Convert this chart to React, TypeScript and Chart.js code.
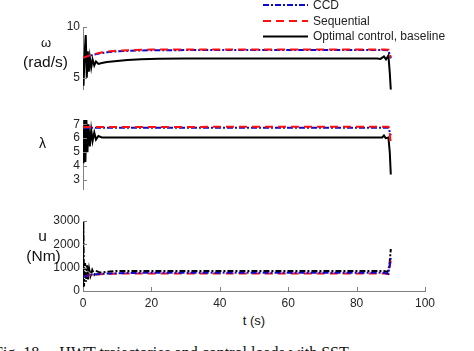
import React, { useEffect, useRef } from "react";
import { Chart, registerables } from "chart.js";

Chart.register(...registerables);

// ---------- data ----------
const LEGEND_LABELS = ["CCD", "Sequential", "Optimal control, baseline"];

const X_TICKS = [0, 20, 40, 60, 80, 100];
const OMEGA_TICKS = [5, 10];
const LAMBDA_TICKS = [3, 4, 5, 6, 7];
const U_TICKS = [0, 1000, 2000, 3000];

// omega (rad/s)
const T_OMEGA_CCD = [0, 1, 2, 3, 5, 7, 10, 14, 20, 30, 50, 70, 88, 89.3, 90];
const OMEGA_CCD = [6.95, 7.05, 7.15, 7.25, 7.4, 7.5, 7.6, 7.66, 7.7, 7.72, 7.72, 7.72, 7.72, 7.7, 6.9];
const T_OMEGA_SEQ = [0, 1, 2, 3, 5, 7, 10, 14, 20, 30, 50, 70, 88, 89.3, 90];
const OMEGA_SEQ = [6.95, 7.08, 7.2, 7.3, 7.45, 7.56, 7.66, 7.72, 7.77, 7.78, 7.78, 7.78, 7.78, 7.76, 7.0];
const T_OMEGA_OPT = [0, 0.15, 0.5, 0.8, 1.1, 1.4, 1.7, 2.0, 2.4, 2.8, 3.3, 3.8, 4.5, 5.5, 7, 10, 13, 17, 22, 30, 50, 70, 86, 87, 88, 88.6, 89.3, 89.7, 90];
const OMEGA_OPT = [6.9, 4.2, 7.5, 9.2, 5.0, 7.6, 5.6, 7.0, 6.0, 6.8, 6.2, 6.6, 6.35, 6.45, 6.55, 6.65, 6.75, 6.82, 6.87, 6.9, 6.9, 6.9, 6.9, 6.85, 7.1, 6.8, 7.2, 5.5, 3.8];

// lambda
const T_LAMBDA_CCD = [0, 1, 2, 4, 88, 89.3, 90];
const LAMBDA_CCD = [6.7, 6.72, 6.74, 6.75, 6.75, 6.75, 6.2];
const T_LAMBDA_SEQ = [0, 2, 88, 89.3, 89.6, 90];
const LAMBDA_SEQ = [6.78, 6.8, 6.82, 6.82, 6.6, 5.6];
const T_LAMBDA_OPT = [0, 0.15, 0.4, 0.7, 1.0, 1.3, 1.6, 2.0, 2.4, 2.8, 3.3, 3.8, 4.5, 5.5, 86, 87.5, 88, 88.5, 89.3, 89.7, 90];
const LAMBDA_OPT = [6.8, 4.2, 7.3, 4.3, 7.3, 5.0, 7.0, 5.4, 6.6, 5.8, 6.4, 5.9, 6.15, 6.05, 6.05, 6.05, 6.2, 6.0, 6.05, 5.0, 3.4];

// u (Nm)
const T_U_CCD = [0, 1, 2, 4, 6, 8, 10, 15, 20, 40, 60, 80, 88, 89.3, 90];
const U_CCD = [600, 650, 690, 720, 740, 755, 765, 775, 780, 780, 780, 780, 780, 740, 1450];
const T_U_SEQ = [0, 1, 2, 4, 6, 8, 10, 15, 20, 40, 60, 80, 88, 89.3, 90];
const U_SEQ = [600, 640, 680, 710, 725, 735, 745, 750, 752, 752, 752, 752, 752, 720, 1300];
const T_U_OPT = [0, 0.1, 0.3, 0.6, 0.9, 1.2, 1.5, 1.8, 2.2, 2.7, 3.3, 4, 5, 7, 10, 20, 40, 60, 80, 88, 89, 89.6, 90];
const U_OPT = [0, 3000, 200, 1200, 400, 1100, 500, 950, 650, 900, 700, 850, 790, 820, 860, 860, 860, 860, 860, 860, 820, 1100, 1800];

// ---------- styles ----------
const BLUE = "#0a0acc";
const RED = "#ff1010";
const BLACK = "#000000";
const AXIS_GRAY = "#808080";
const TICK_TEXT = "#262626";
const FONT_FAMILY = "'Liberation Sans', Arial, sans-serif";
const DASH_DOT = [6, 2, 2, 2];
const DASHED = [8, 5];

const pts = (t: number[], v: number[]) => t.map((x, i) => ({ x, y: v[i] }));

const insideTicks = {
  id: "insideTicks",
  afterDraw(chart: any) {
    const { ctx, chartArea, scales } = chart;
    ctx.save();
    ctx.strokeStyle = AXIS_GRAY;
    ctx.lineWidth = 1;
    ctx.beginPath();
    scales.y.ticks.forEach((t: any) => {
      const py = Math.round(scales.y.getPixelForValue(t.value)) + 0.5;
      ctx.moveTo(chartArea.left, py);
      ctx.lineTo(chartArea.left + 4, py);
    });
    if (scales.x.options.display) {
      scales.x.ticks.forEach((t: any) => {
        const px = Math.round(scales.x.getPixelForValue(t.value)) + 0.5;
        ctx.moveTo(px, chartArea.bottom);
        ctx.lineTo(px, chartArea.bottom - 4);
      });
    }
    ctx.stroke();
    ctx.restore();
  },
};

const legendPlugin = {
  id: "customLegend",
  afterDraw(chart: any) {
    const { ctx } = chart;
    const styles = [
      { color: BLUE, dash: DASH_DOT },
      { color: RED, dash: DASHED },
      { color: BLACK, dash: [] as number[] },
    ];
    const ys = [5, 21, 36.5];
    ctx.save();
    LEGEND_LABELS.forEach((label, i) => {
      ctx.beginPath();
      ctx.setLineDash(styles[i].dash);
      ctx.strokeStyle = styles[i].color;
      ctx.lineWidth = 2;
      ctx.moveTo(263, ys[i]);
      ctx.lineTo(308, ys[i]);
      ctx.stroke();
      ctx.setLineDash([]);
      ctx.fillStyle = "#222";
      ctx.font = `12px ${FONT_FAMILY}`;
      ctx.textBaseline = "middle";
      ctx.textAlign = "left";
      ctx.fillText(label, 313, ys[i] + 0.5);
    });
    ctx.restore();
  },
};

const tickFmt = (v: any) => String(v);

function makeConfig(
  datasets: any[],
  yMin: number,
  yMax: number,
  yTicks: number[],
  showX: boolean,
  padding: any,
  extraPlugins: any[]
) {
  return {
    type: "line",
    data: { datasets },
    options: {
      animation: false,
      responsive: false,
      layout: { padding },
      elements: { point: { radius: 0 }, line: { tension: 0 } },
      plugins: { legend: { display: false }, tooltip: { enabled: false } },
      scales: {
        x: {
          type: "linear",
          min: 0,
          max: 100,
          display: showX,
          afterBuildTicks: (s: any) => {
            s.ticks = X_TICKS.map((v) => ({ value: v }));
          },
          afterFit: (s: any) => {
            s.height = showX ? 19 : 0;
          },
          grid: { display: true, drawOnChartArea: false, drawTicks: false },
          border: { display: true, color: AXIS_GRAY, width: 1 },
          ticks: {
            padding: 5,
            autoSkip: false,
            maxRotation: 0,
            callback: tickFmt,
            color: TICK_TEXT,
            font: { family: FONT_FAMILY, size: 12 },
          },
        },
        y: {
          type: "linear",
          min: yMin,
          max: yMax,
          afterBuildTicks: (s: any) => {
            s.ticks = yTicks.map((v) => ({ value: v }));
          },
          afterFit: (s: any) => {
            s.width = 83;
          },
          grid: { display: true, drawOnChartArea: false, drawTicks: false },
          border: { display: true, color: AXIS_GRAY, width: 1 },
          ticks: {
            padding: 3,
            autoSkip: false,
            callback: tickFmt,
            color: TICK_TEXT,
            font: { family: FONT_FAMILY, size: 12 },
          },
        },
      },
    },
    plugins: [insideTicks, ...extraPlugins],
  };
}

function ds(data: any[], color: string, dash: number[], order: number) {
  return { data, borderColor: color, borderDash: dash, borderWidth: 2, fill: false, order, pointRadius: 0 };
}

export default function App() {
  const r1 = useRef<HTMLCanvasElement>(null);
  const r2 = useRef<HTMLCanvasElement>(null);
  const r3 = useRef<HTMLCanvasElement>(null);

  useEffect(() => {
    const c1 = new Chart(
      r1.current as any,
      makeConfig(
        [
          ds(pts(T_OMEGA_SEQ, OMEGA_SEQ), RED, DASHED, 0),
          ds(pts(T_OMEGA_CCD, OMEGA_CCD), BLUE, DASH_DOT, 1),
          ds(pts(T_OMEGA_OPT, OMEGA_OPT), BLACK, [], 2),
        ],
        3.8,
        10,
        OMEGA_TICKS,
        false,
        { left: 0, right: 49, top: 27, bottom: 2 },
        [legendPlugin]
      ) as any
    );
    const c2 = new Chart(
      r2.current as any,
      makeConfig(
        [
          ds(pts(T_LAMBDA_SEQ, LAMBDA_SEQ), RED, DASHED, 0),
          ds(pts(T_LAMBDA_CCD, LAMBDA_CCD), BLUE, DASH_DOT, 1),
          ds(pts(T_LAMBDA_OPT, LAMBDA_OPT), BLACK, [], 2),
        ],
        2.3,
        7.3,
        LAMBDA_TICKS,
        false,
        { left: 0, right: 49, top: 20, bottom: 9 },
        []
      ) as any
    );
    const c3 = new Chart(
      r3.current as any,
      makeConfig(
        [
          ds(pts(T_U_SEQ, U_SEQ), RED, DASHED, 1),
          ds(pts(T_U_CCD, U_CCD), BLUE, DASH_DOT, 0),
          ds(pts(T_U_OPT, U_OPT), BLACK, DASH_DOT, 2),
        ],
        0,
        3000,
        U_TICKS,
        true,
        { left: 0, right: 49, top: 21, bottom: 0 },
        []
      ) as any
    );
    return () => {
      c1.destroy();
      c2.destroy();
      c3.destroy();
    };
  }, []);

  const label = (text: string, x: number, y: number, size: number) => (
    <div
      style={{
        position: "absolute",
        left: x,
        top: y,
        transform: "translate(-50%, -50%)",
        fontFamily: FONT_FAMILY,
        fontSize: size,
        color: "#111",
        whiteSpace: "nowrap",
        lineHeight: 1,
      }}
    >
      {text}
    </div>
  );

  return (
    <div
      style={{
        position: "fixed",
        left: 0,
        top: 0,
        width: 474,
        height: 351,
        overflow: "hidden",
        background: "#fff",
      }}
    >
      <canvas ref={r1} width={474} height={100} style={{ position: "absolute", left: 0, top: 0, display: "block" }} />
      <canvas ref={r2} width={474} height={100} style={{ position: "absolute", left: 0, top: 100, display: "block" }} />
      <canvas ref={r3} width={474} height={110} style={{ position: "absolute", left: 0, top: 200, display: "block" }} />
      {label("ω", 46, 42, 13)}
      {label("(rad/s)", 45.5, 62, 15.5)}
      {label("λ", 42.5, 143, 14)}
      {label("u", 42.5, 236, 15.5)}
      {label("(Nm)", 43.5, 256, 15.5)}
      {label("t (s)", 254, 320, 13)}
      <div
        style={{
          position: "absolute",
          left: -6,
          top: 345,
          fontFamily: "'Liberation Serif', 'DejaVu Serif', serif",
          fontSize: 16,
          lineHeight: "16px",
          whiteSpace: "nowrap",
          color: "#111",
        }}
      >
        Fig. 18.&nbsp;&nbsp;&nbsp; HWT trajectories and control loads with SST
      </div>
    </div>
  );
}
